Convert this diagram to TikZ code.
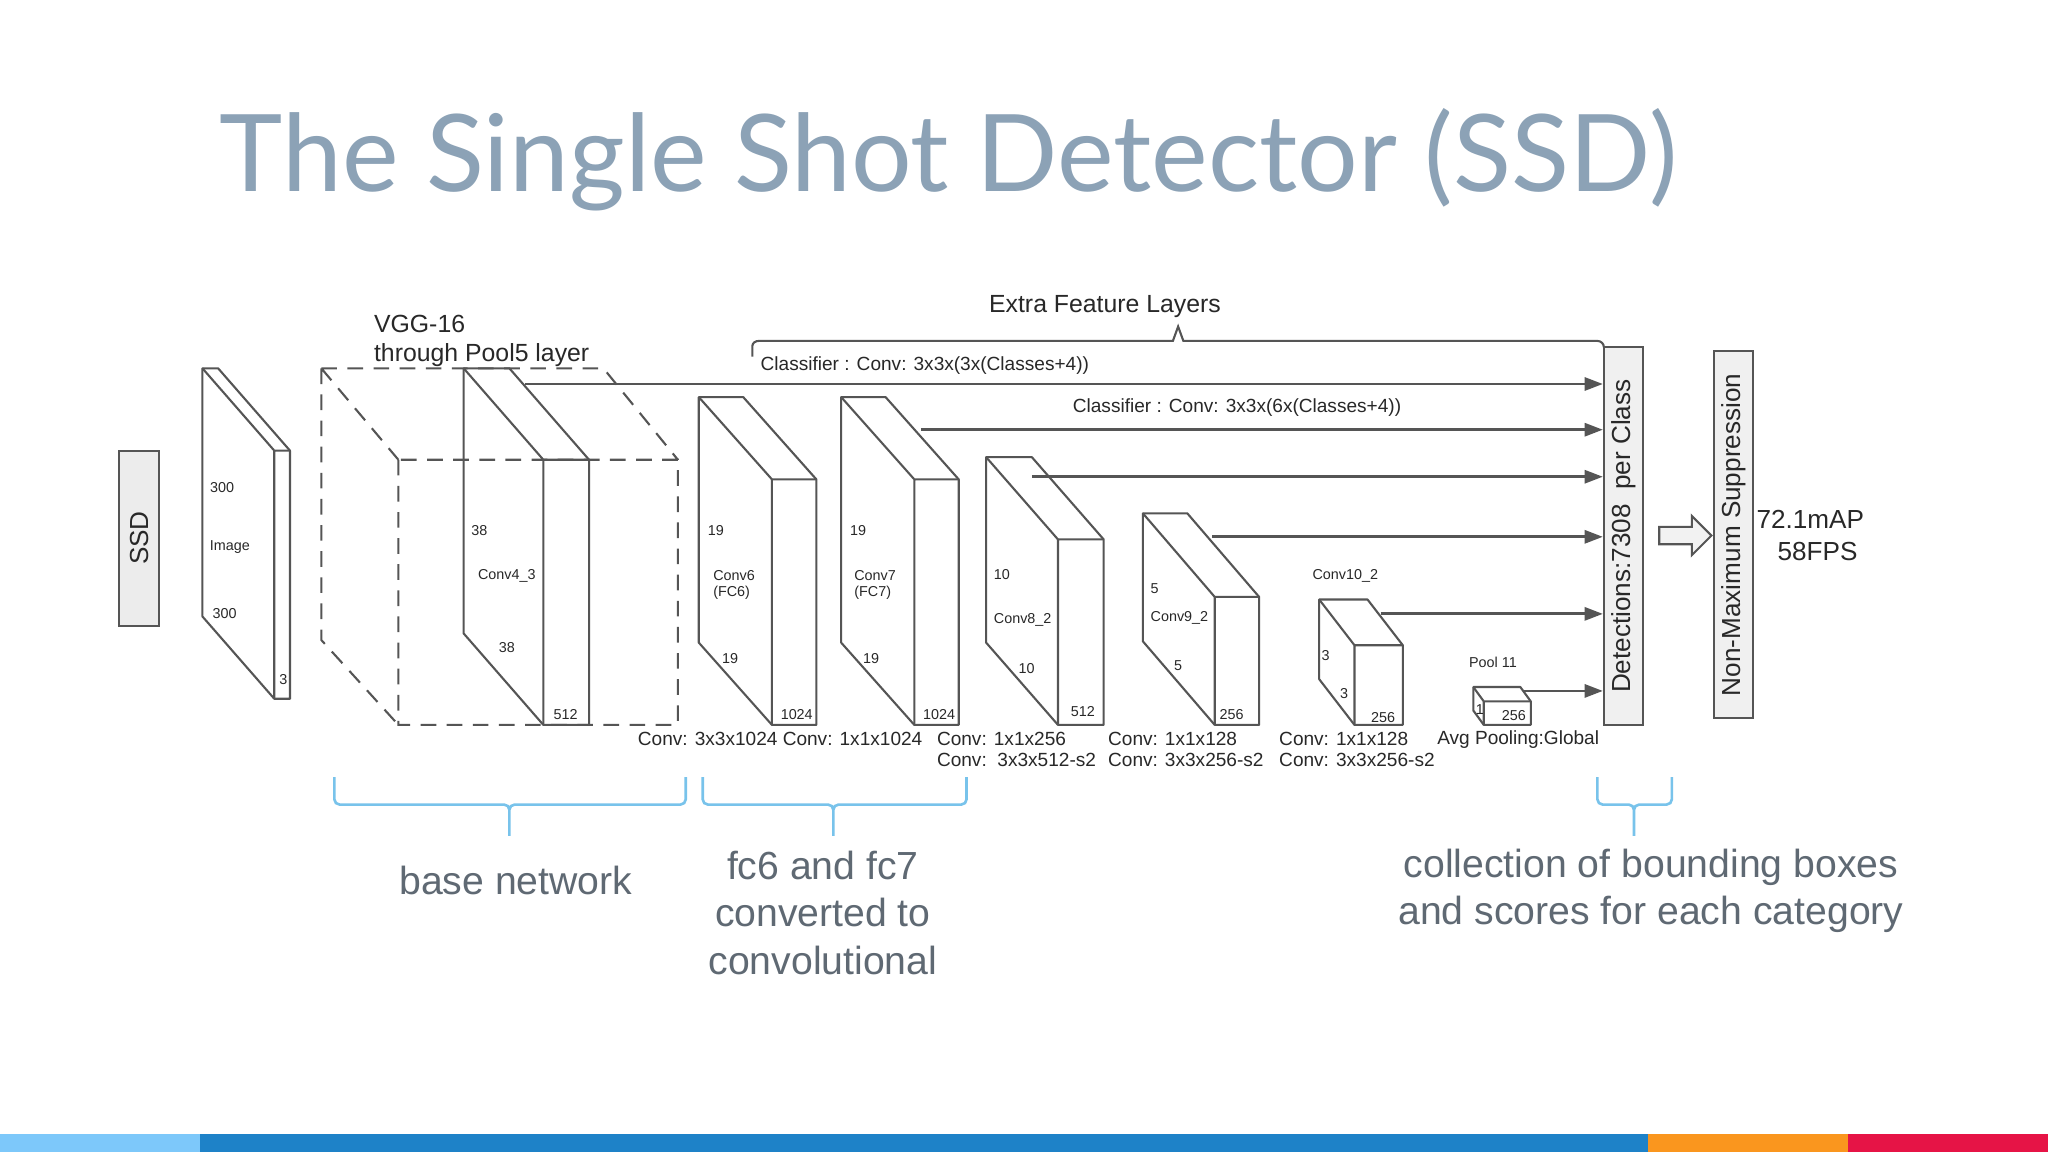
\documentclass[tikz,border=0pt]{standalone}
\usepackage{fontspec}
\setmainfont{Liberation Sans}
\newfontfamily\titlef{Lato}
\usetikzlibrary{arrows.meta,shapes.arrows}
\definecolor{ln}{RGB}{85,85,85}
\definecolor{tx}{RGB}{40,40,40}
\definecolor{bl}{RGB}{120,195,235}
\definecolor{gt}{RGB}{95,105,115}
\definecolor{ttl}{RGB}{140,162,182}
\definecolor{b1}{RGB}{125,200,250}
\definecolor{b2}{RGB}{30,130,200}
\definecolor{b3}{RGB}{250,150,30}
\definecolor{b4}{RGB}{230,20,70}
\newcommand\mycub[6]{% xl yt x1 x2 yt1 yb
  \draw[cub] (#1,#2) -- (#1,{#6-(#5-#2)}) -- (#3,#6) -- (#4,#6) -- (#4,#5) -- ({#1+#4-#3},#2) -- cycle;
  \draw[cub] (#1,#2) -- (#3,#5) -- (#4,#5) (#3,#5) -- (#3,#6);}
\newcommand\mybrace[3]{% xl xr xc
  \draw[brc] (#1,595) -- (#1,612) to[out=-90,in=180] (#1+4,616) -- (#3-4,616) to[out=0,in=90] (#3,620) -- (#3,640)
    (#3,620) to[out=90,in=180] (#3+4,616) -- (#2-4,616) to[out=0,in=-90] (#2,612) -- (#2,595);}
\begin{document}
\begin{tikzpicture}[x=0.5pt,y=-0.5pt,
  cub/.style={draw=ln,line width=0.8pt,line join=round},
  arr/.style={draw=ln,line width=1.1pt,-{Triangle[length=7pt,width=5pt]}},
  sm/.style={font=\fontsize{5.5}{6}\selectfont,text=tx,inner sep=0pt},
  md/.style={font=\fontsize{7.3}{8}\selectfont,text=tx,inner sep=0pt},
  big/.style={font=\fontsize{15}{18}\selectfont,text=gt,align=center,inner sep=0pt},
  brc/.style={draw=bl,line width=1pt}]
\useasboundingbox (0,0) rectangle (1568,882);
\fill[white] (0,0) rectangle (1568,882);
\node[anchor=base west,text=ttl,font=\titlef\fontsize{41}{48}\selectfont,inner sep=0pt] (title) at (168,147) {The Single Shot Detector (SSD)};
% SSD box
\node[draw=ln,fill=gray!15,line width=0.8pt,minimum width=15.5pt,minimum height=67pt,inner sep=0pt] (ssd) at (106.5,412) {};
\node[rotate=90,font=\fontsize{10}{12}\selectfont,text=tx] (ssdt) at (ssd) {SSD};
% dashed box
\draw[ln,line width=0.8pt,dash pattern=on 6pt off 4pt] (246,282) -- (462,282) -- (519,352) (246,282) -- (246,490) -- (305,555) (246,282) -- (305,352) (305,352) rectangle (519,555);
% cuboids
\mycub{155}{282}{210}{222}{345}{535}
\mycub{355}{282}{416}{451}{352}{555}
\mycub{535}{304}{591}{625}{367}{555}
\mycub{644}{304}{700}{734}{367}{555}
\mycub{755}{350}{810}{845}{413}{555}
\mycub{875}{393}{930}{964}{457}{555}
\mycub{1010}{459}{1037}{1074}{494}{555}
\mycub{1128}{526}{1136}{1172}{537}{555}
% small labels
\node[sm] (a1) at (170,373) {300};
\node[sm] (a2) at (176,419) {Image};
\node[sm] (a3) at (172,470) {300};
\node[sm] (a4) at (217,520) {3};
\node[sm] (b1) at (367,406) {38};
\node[sm] (b2) at (388,441) {Conv4\_3};
\node[sm] (b3) at (388,496) {38};
\node[sm] (b4) at (433,547) {512};
\node[sm] (c1) at (548,406) {19};
\node[sm,align=left] (c2) at (562,448) {Conv6\\(FC6)};
\node[sm] (c3) at (559,504) {19};
\node[sm] (c4) at (610,547) {1024};
\node[sm] (d1) at (657,406) {19};
\node[sm,align=left] (d2) at (670,448) {Conv7\\(FC7)};
\node[sm] (d3) at (667,504) {19};
\node[sm] (d4) at (719,547) {1024};
\node[sm] (e1) at (767,440) {10};
\node[sm] (e2) at (783,475) {Conv8\_2};
\node[sm] (e3) at (786,512) {10};
\node[sm] (e4) at (829,545) {512};
\node[sm] (f1) at (884,451) {5};
\node[sm] (f2) at (903,473) {Conv9\_2};
\node[sm] (f3) at (902,510) {5};
\node[sm] (f4) at (943,547) {256};
\node[sm] (g0) at (1030,441) {Conv10\_2};
\node[sm] (g1) at (1015,502) {3};
\node[sm] (g2) at (1029,531) {3};
\node[sm] (g4) at (1059,549) {256};
\node[sm] (h0) at (1143,507) {Pool 11};
\node[sm] (h1) at (1133,543) {1};
\node[sm] (h4) at (1159,548) {256};
% conv labels
\node[md,anchor=west] (l1) at (488,566) {Conv: 3x3x1024 Conv: 1x1x1024};
\node[md,anchor=west,align=left] (l2) at (717,574) {Conv: 1x1x256\\Conv:\ \ 3x3x512-s2};
\node[md,anchor=west,align=left] (l3) at (848,574) {Conv: 1x1x128\\Conv: 3x3x256-s2};
\node[md,anchor=west,align=left] (l4) at (979,574) {Conv: 1x1x128\\Conv: 3x3x256-s2};
\node[md,anchor=west] (l5) at (1100,566) {Avg Pooling:Global};
% detections & nms
\node[draw=ln,fill=gray!12,line width=0.8pt,minimum width=15pt,minimum height=144.5pt,inner sep=0pt] (det) at (1243,410.5) {};
\node[rotate=90,font=\fontsize{10}{12}\selectfont,text=tx] (dett) at (det) {Detections:7308\ \ per Class};
\node[draw=ln,fill=gray!12,line width=0.8pt,minimum width=15pt,minimum height=140.5pt,inner sep=0pt] (nms) at (1327,409.5) {};
\node[rotate=90,font=\fontsize{10}{12}\selectfont,text=tx] (nmst) at (nms) {Non-Maximum Suppression};
\node[single arrow,draw=ln,fill=gray!10,line width=0.8pt,minimum height=20pt,minimum width=15pt,single arrow head extend=3pt,inner sep=2pt] (bar) at (1287,410) {};
\node[font=\fontsize{10}{12}\selectfont,text=tx,align=center,inner sep=0pt] (map) at (1386,410) {72.1mAP\\\ \ 58FPS};
% arrow starts
\coordinate (s1) at (402,294);
\coordinate (s2) at (705,329);
\coordinate (s3) at (790,365);
\coordinate (s4) at (928,411);
\coordinate (s5) at (1057,470);
\coordinate (s6) at (1167,529);
\foreach \s in {s1,s2,s3,s4,s5,s6} \draw[arr] (\s) -- (det.west |- \s);
\node[md,anchor=west] (k1) at (582,280) {Classifier : Conv: 3x3x(3x(Classes+4))};
\node[md,anchor=west] (k2) at (821,312) {Classifier : Conv: 3x3x(6x(Classes+4))};
% extra feature brace
\draw[ln,line width=0.8pt] (576,273) -- (576,265) to[out=90,in=180] (581,261) -- (898,261) -- (902,250) -- (906,261) -- (1223,261) to[out=0,in=90] (1228,266);
\node[font=\fontsize{9.5}{11}\selectfont,text=tx,inner sep=0pt] (ef) at (846,235) {Extra Feature Layers};
\node[font=\fontsize{9.5}{11}\selectfont,text=tx,align=left,anchor=north west,inner sep=0pt] (vgg) at (286,241) {VGG-16\\through Pool5 layer};
% blue braces
\mybrace{256}{525}{390}
\mybrace{538}{740}{638}
\mybrace{1223}{1280}{1251}
\node[big] (t1) at (395,674) {base network};
\node[big] (t2) at (630,699) {fc6 and fc7\\converted to\\convolutional};
\node[big] (t3) at (1264,682) {collection of bounding boxes\\and scores for each category};
% bottom bar
\fill[b1] (0,868) rectangle (153,882);
\fill[b2] (153,868) rectangle (1262,882);
\fill[b3] (1262,868) rectangle (1415,882);
\fill[b4] (1415,868) rectangle (1568,882);
\end{tikzpicture}
\end{document}
